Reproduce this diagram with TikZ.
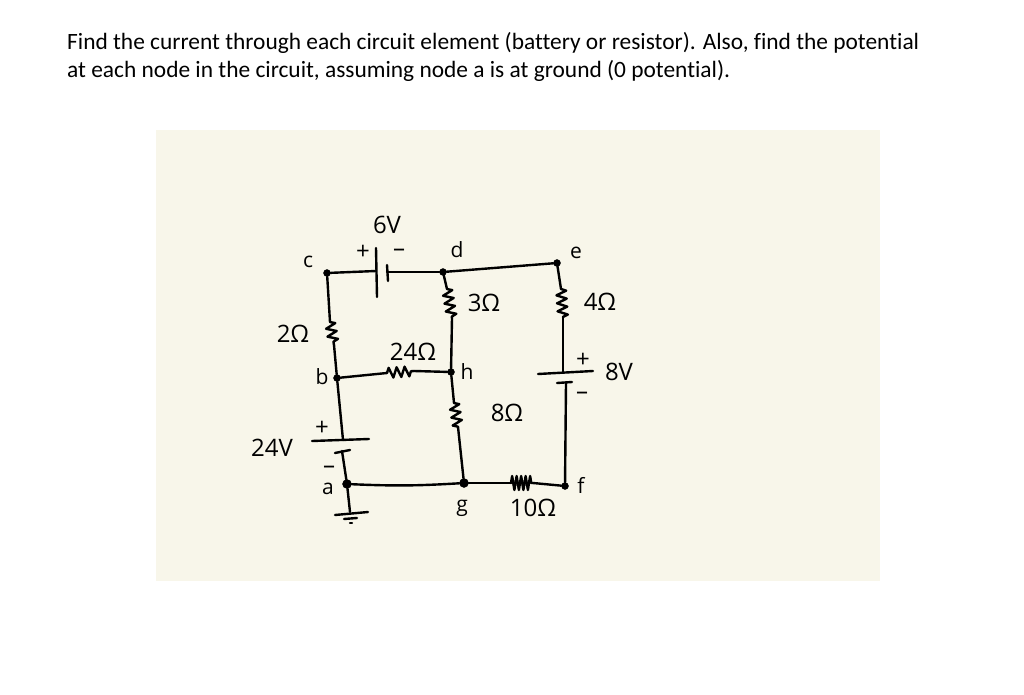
\documentclass[tikz,border=0pt]{standalone}
\usepackage{fontspec}
\setmainfont[Ligatures=NoCommon]{Carlito}
\newfontfamily\handfont{Open Sans}
\usetikzlibrary{decorations.pathmorphing}
\definecolor{paper}{HTML}{F8F6EA}
\tikzset{
    question/.style={
    anchor=base west,inner sep=0pt,font=\fontsize{23.4}{28}\selectfont
    },
    handlabel/.style={
    inner sep=0pt,font=\handfont\fontsize{24}{28}\selectfont
    },
    nodelabel/.style={
    inner sep=0pt,font=\handfont\fontsize{21}{24}\selectfont
    },
    junction/.style={
    circle,fill=black,draw=black,inner sep=0pt,minimum size=7pt
    },
    wire/.style={
    line width=2.4pt,line cap=round,line join=round
    },
    rstor/.style={
    wire,decoration={zigzag,segment length=8pt,amplitude=5pt},decorate
    },
}

\begin{document}
\begin{tikzpicture}[x=1pt,y=-1pt]
   \useasboundingbox (0,0) rectangle (1024,695);
   \fill[paper] (156,130) rectangle (880,581);
   \node[question] (line1) at (67,50) {Find the current through each circuit element (battery or resistor). Also, find the potential};
   \node[question] (line2) at (67,78) {at each node in the circuit, assuming node a is at ground (0 potential).};

   % junctions
   \node[junction] (c) at (327,273) {};
   \node[junction] (d) at (443,272) {};
   \node[junction] (e) at (557,263) {};
   \node[junction] (b) at (337,378) {};
   \node[junction] (h) at (451,372) {};
   \node[junction,minimum size=9pt] (a) at (347,484) {};
   \node[junction,minimum size=9pt] (g) at (464,483) {};
   \node[junction] (f) at (565,486) {};

   % battery plates
   \coordinate (p6a) at (376,248);
   \coordinate (p6b) at (377,297);
   \coordinate (p6w) at (376,271);
   \coordinate (q6a) at (387,265);
   \coordinate (q6b) at (388,281);
   \coordinate (q6w) at (387,272);
   \coordinate (p8a) at (538,374);
   \coordinate (p8b) at (593,371);
   \coordinate (p8w) at (563,372);
   \coordinate (q8a) at (557,383);
   \coordinate (q8b) at (572,382);
   \coordinate (q8w) at (566,383);
   \coordinate (p24a) at (312,441);
   \coordinate (p24b) at (369,439);
   \coordinate (p24w) at (343,440);
   \coordinate (q24a) at (335,453);
   \coordinate (q24b) at (350,450);
   \coordinate (q24w) at (342,451);

   % ground
   \coordinate (gnd) at (350,512);
   \coordinate (gnda) at (335,515);
   \coordinate (gndb) at (368,512);
   \coordinate (gndc) at (344,519);
   \coordinate (gndd) at (357,518);
   \coordinate (gnde) at (350,523);
   \coordinate (gndf) at (352,523);

   % resistor ends
   \coordinate (r2a) at (330,322);
   \coordinate (r2b) at (334,345);
   \coordinate (r3a) at (447,289);
   \coordinate (r3b) at (452,318);
   \coordinate (r4a) at (561,289);
   \coordinate (r4b) at (563,317);
   \coordinate (r24a) at (387,373);
   \coordinate (r24b) at (414,371);
   \coordinate (r8a) at (454,403);
   \coordinate (r8b) at (458,427);
   \coordinate (r10a) at (511,483);
   \coordinate (r10b) at (533,483);

   \path[wire]
    (c)    edge (p6w)
           edge (r2a)
    (q6w)  edge (d)
    (d)    edge (e)
           edge (r3a)
    (e)    edge (r4a)
    (r2b)  edge (b)
    (r3b)  edge (h)
    (r4b)  edge (p8w)
    (b)    edge (r24a)
           edge (p24w)
    (r24b) edge (h)
    (h)    edge (r8a)
    (r8b)  edge (g)
    (q24w) edge (a)
    (a)    edge [bend right=3] (g)
           edge (gnd)
    (g)    edge (r10a)
    (r10b) edge (f)
    (q8w)  edge (f)
    (p6a)  edge (p6b)
    (q6a)  edge (q6b)
    (p8a)  edge (p8b)
    (q8a)  edge (q8b)
    (p24a) edge (p24b)
    (q24a) edge (q24b)
    (gnda) edge (gndb)
    (gndc) edge (gndd)
    (gnde) edge (gndf);

   \draw[rstor] (r2a) -- (r2b);
   \draw[rstor] (r3a) -- (r3b);
   \draw[rstor] (r4a) -- (r4b);
   \draw[rstor] (r24a) -- (r24b);
   \draw[rstor] (r8a) -- (r8b);
   \draw[rstor,decoration={segment length=4.5pt,amplitude=7pt}] (r10a) -- (r10b);

   % labels
   \node[nodelabel] (lc) at (308,262) {c};
   \node[nodelabel] (ld) at (457,250) {d};
   \node[nodelabel] (le) at (576,253) {e};
   \node[nodelabel] (lb) at (322,377) {b};
   \node[nodelabel] (lh) at (467,372) {h};
   \node[nodelabel] (la) at (328,489) {a};
   \node[nodelabel] (lg) at (462,508) {g};
   \node[nodelabel] (lf) at (581,485) {f};
   \node[handlabel] (l6v) at (387,225) {6V};
   \node[handlabel] (l6p) at (363,252) {+};
   \node[handlabel] (l6m) at (399,253) {–};
   \node[handlabel] (l8v) at (619,372) {8V};
   \node[handlabel] (l8p) at (583,360) {+};
   \node[handlabel] (l8m) at (582,396) {–};
   \node[handlabel] (l24v) at (272,448) {24V};
   \node[handlabel] (l24p) at (322,428) {+};
   \node[handlabel] (l24m) at (329,470) {–};
   \node[handlabel] (l2) at (293,334) {2Ω};
   \node[handlabel] (l3) at (484,303) {3Ω};
   \node[handlabel] (l4) at (600,302) {4Ω};
   \node[handlabel] (l24) at (413,352) {24Ω};
   \node[handlabel] (l8) at (507,413) {8Ω};
   \node[handlabel] (l10) at (533,508) {10Ω};
\end{tikzpicture}
\end{document}
